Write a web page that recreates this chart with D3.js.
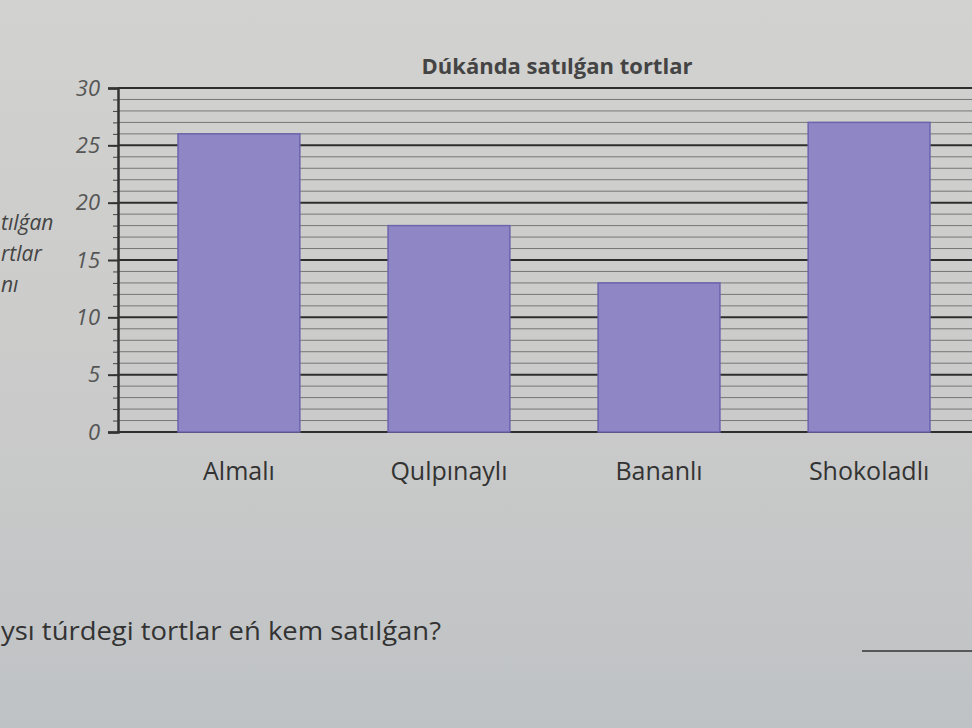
<!DOCTYPE html>
<html>
<head>
<meta charset="utf-8">
<script src="https://cdn.jsdelivr.net/npm/d3@7"></script>
<style>
  body { margin: 0; background: #cbcbc9; }
  svg { display: block; }
</style>
</head>
<body>
<svg width="972" height="728"></svg>
<script>
// data
const categories = ["Almalı", "Qulpınaylı", "Bananlı", "Shokoladlı"];
const sold = [26, 18, 13, 27];
const majorTicks = [0, 5, 10, 15, 20, 25, 30];
// only the right-hand part of the axis title is on the photo
const axisTitle = ["tılǵan", "rtlar", "nı"];

const svg = d3.select("svg"),
    width = +svg.attr("width"),
    height = +svg.attr("height");

// paper
const defs = svg.append("defs");
const grad = defs.append("linearGradient")
    .attr("id", "paper").attr("x1", 0).attr("y1", 0).attr("x2", 0).attr("y2", 1);
grad.append("stop").attr("offset", "0%").attr("stop-color", "#d2d2d0");
grad.append("stop").attr("offset", "60%").attr("stop-color", "#c9cac9");
grad.append("stop").attr("offset", "100%").attr("stop-color", "#bfc2c5");
svg.append("rect").attr("width", width).attr("height", height).attr("fill", "url(#paper)");

const axisX = 118;

const y = d3.scaleLinear()
    .domain([0, 30])
    .range([432, 88]);

const x = d3.scaleBand()
    .domain(categories)
    .range([136, 972])
    .paddingInner(0.42)
    .paddingOuter(0.2);

// grid lines, one per unit, thicker every 5
svg.append("g")
    .selectAll("line")
    .data(y.ticks(30))
    .join("line")
      .attr("x1", axisX)
      .attr("x2", width)
      .attr("y1", d => y(d))
      .attr("y2", d => y(d))
      .attr("stroke", d => d % 5 === 0 ? "#2e2e2e" : "#767676")
      .attr("stroke-width", d => d % 5 === 0 ? 2 : 1);

// bars
svg.append("g")
    .selectAll("rect")
    .data(sold)
    .join("rect")
      .attr("x", (d, i) => x(categories[i]))
      .attr("y", d => y(d))
      .attr("width", x.bandwidth())
      .attr("height", d => y(0) - y(d))
      .attr("fill", "#8f87c5")
      .attr("stroke", "#6c64ad")
      .attr("stroke-width", 1.5);

// y axis: minor ticks
svg.append("g")
    .attr("transform", `translate(${axisX},0)`)
    .call(d3.axisLeft(y).ticks(30).tickSize(5).tickFormat(""))
    .call(g => g.select(".domain").remove())
    .call(g => g.selectAll("line").attr("stroke", "#444"));

// y axis: major ticks with labels
svg.append("g")
    .attr("transform", `translate(${axisX},0)`)
    .call(d3.axisLeft(y).tickValues(majorTicks).tickSize(10).tickPadding(8))
    .call(g => g.select(".domain").attr("stroke", "#333").attr("stroke-width", 2.5))
    .call(g => g.selectAll("line").attr("stroke", "#333").attr("stroke-width", 2))
    .call(g => g.selectAll("text")
        .attr("fill", "#555")
        .attr("font-family", "Open Sans")
        .attr("font-style", "italic")
        .attr("font-size", 22));

// category labels
svg.append("g")
    .selectAll("text")
    .data(categories)
    .join("text")
      .attr("x", d => x(d) + x.bandwidth() / 2)
      .attr("y", 480)
      .attr("text-anchor", "middle")
      .attr("fill", "#333")
      .attr("font-family", "Open Sans")
      .attr("font-size", 25)
      .text(d => d);

// title
svg.append("text")
    .attr("x", 557)
    .attr("y", 74)
    .attr("text-anchor", "middle")
    .attr("fill", "#444")
    .attr("font-family", "Open Sans")
    .attr("font-weight", "bold")
    .attr("font-size", 22)
    .text("Dúkánda satılǵan tortlar");

// axis title fragments at the left edge
svg.append("g")
    .selectAll("text")
    .data(axisTitle)
    .join("text")
      .attr("x", 1)
      .attr("y", (d, i) => 230 + i * 31)
      .attr("fill", "#444")
      .attr("font-family", "Open Sans")
      .attr("font-style", "italic")
      .attr("font-size", 21)
      .text(d => d);

// question under the chart (start of the line is off the photo)
svg.append("text")
    .attr("x", 1)
    .attr("y", 640)
    .attr("fill", "#333")
    .attr("font-family", "Open Sans")
    .attr("font-size", 26)
    .attr("textLength", 440)
    .attr("lengthAdjust", "spacingAndGlyphs")
    .text("ysı túrdegi tortlar eń kem satılǵan?");

svg.append("line")
    .attr("x1", 862).attr("x2", width)
    .attr("y1", 651).attr("y2", 651)
    .attr("stroke", "#333").attr("stroke-width", 1.5);
</script>
</body>
</html>
